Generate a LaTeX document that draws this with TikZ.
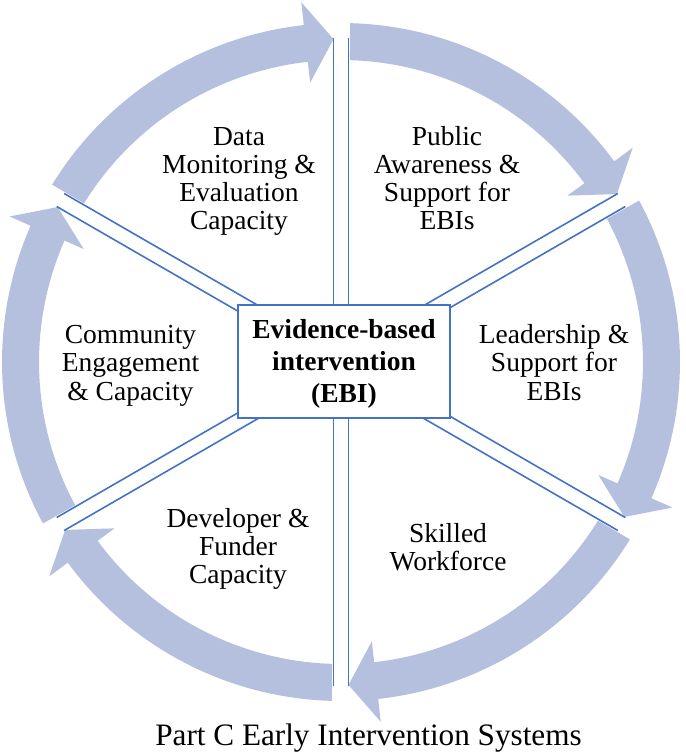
\documentclass[tikz,border=0pt]{standalone}
\usepackage{fontspec}
\setmainfont{Liberation Serif}
\definecolor{bandblue}{HTML}{B4C0DE}
\definecolor{spokeblue}{HTML}{4472C4}
\begin{document}
\begin{tikzpicture}[x=1pt,y=1pt,
  bandarrow/.style={fill=bandblue, draw=none},
  spoke/.style={draw=spokeblue, line width=1.6pt},
  lbl/.style={align=center, anchor=base, inner sep=0pt,
    font=\fontsize{27.5}{28}\selectfont},
  ebibox/.style={draw=spokeblue, line width=2.6pt, fill=white,
    minimum width=212pt, minimum height=113pt, inner sep=0pt},
  ebitext/.style={align=center, anchor=base, inner sep=0pt,
    font=\fontsize{27.5}{32}\selectfont\bfseries},
  titlelbl/.style={anchor=base, inner sep=0pt,
    font=\fontsize{31.2}{36}\selectfont}]
\useasboundingbox (-341,-392) rectangle (344,362);
% ring arrows (clockwise)
\foreach \g in {90,30,-30,-90,-150,150} {
  \pgfmathsetmacro\ta{\g-1.55}
  \pgfmathsetmacro\tb{\g-1.7}
  \pgfmathsetmacro\hb{\g-60+6.3}
  \pgfmathsetmacro\tp{\g-60+1.33}
  \fill[bandarrow] (\ta:339) arc[start angle=\ta, end angle=\hb, radius=339]
    -- (\hb:362) -- (\tp:323) -- (\hb:281) -- (\hb:302)
    arc[start angle=\hb, end angle=\tb, radius=302] -- cycle;
}
% spokes
\coordinate (c) at (0,0);
\foreach \g in {90,30,-30,-90,-150,150} {
  \draw[spoke, rotate=\g] ([yshift=7.5pt]c) -- (324,7.5);
  \draw[spoke, rotate=\g] ([yshift=-7.5pt]c) -- (324,-7.5);
}
% centre box
\node[ebibox] (ebi) at (3,0.5) {};
\node[ebitext] (ebilbl) at (3,-41) {Evidence-based\\intervention\\(EBI)};
% labels (anchor = baseline of last line)
\node[lbl] (data) at (-102,132) {Data\\Monitoring \&\\Evaluation\\Capacity};
\node[lbl] (public) at (106,132) {Public\\Awareness \&\\Support for\\EBIs};
\node[lbl] (community) at (-210.5,-38) {Community\\Engagement\\\& Capacity};
\node[lbl] (leader) at (213,-38) {Leadership \&\\Support for\\EBIs};
\node[lbl] (developer) at (-103,-221) {Developer \&\\Funder\\Capacity};
\node[lbl] (skilled) at (107,-208) {Skilled\\Workforce};
\node[titlelbl] (title) at (27.5,-383) {Part C Early Intervention Systems};
\end{tikzpicture}
\end{document}
